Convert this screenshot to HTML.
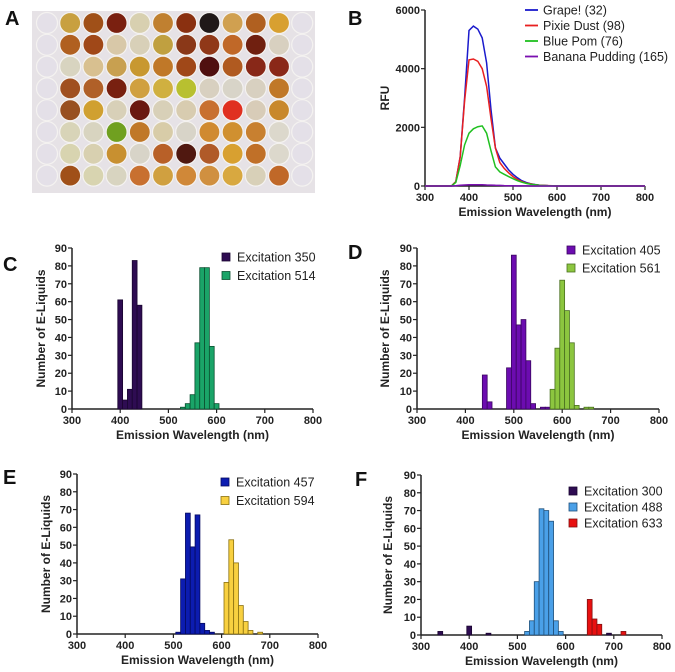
<!DOCTYPE html>
<html><head><meta charset="utf-8">
<style>
html,body{margin:0;padding:0;background:#fff;}
svg{display:block;font-family:"Liberation Sans",Arial,sans-serif;}
.tk{font-size:11px;font-weight:bold;fill:#222;}
.ttl{font-size:12px;font-weight:bold;fill:#222;}
.lg{font-size:12.5px;fill:#222;}
.pl{font-size:20px;font-weight:bold;fill:#111;}
</style></head>
<body>
<svg id="fig" width="675" height="672" viewBox="0 0 675 672" xmlns="http://www.w3.org/2000/svg">
<g id="plate"></g>
<g id="panels"></g>
</svg>
<script>
// ---------- Panel B data ----------
const bWave = [300,360,370,380,390,400,410,420,430,440,450,460,470,480,490,500,510,520,530,540,550,560,580,600,650,700,800];
const bGrape = [0,0,150,1000,3000,5300,5450,5350,5050,4200,2600,1300,950,750,550,400,280,180,120,80,50,30,15,5,0,0,0];
const bPixie = [0,0,150,1000,2900,4300,4330,4250,4000,3400,2300,1300,800,600,450,320,220,150,100,70,45,25,12,5,0,0,0];
const bBlue  = [0,0,120,700,1400,1800,1950,2020,2050,1800,1200,650,480,400,320,250,180,130,90,60,40,20,10,4,0,0,0];
const bBanana= [0,0,10,25,35,40,45,45,40,35,30,25,20,15,10,8,5,3,2,1,0,0,0,0,0,0,0];
const bNames = ["Grape! (32)","Pixie Dust (98)","Blue Pom (76)","Banana Pudding (165)"];
const bTicksY = [0,2000,4000,6000];
const xTicks = [300,400,500,600,700,800];
const hTicksY = [0,10,20,30,40,50,60,70,80,90];

// ---------- Histogram data (bin centers, nm; counts) ----------
const c350Bins=[400,410,420,430,440], c350Vals=[61,5,11,83,58];
const c514Bins=[530,540,550,560,570,580,590,600], c514Vals=[1,3,8,37,79,79,35,3];
const d405Bins=[440,450,490,500,510,520,530,540,560,570], d405Vals=[19,4,23,86,47,50,27,3,1,1];
const d561Bins=[580,590,600,610,620,630,650,660], d561Vals=[11,34,72,55,37,2,1,1];
const e457Bins=[510,520,530,540,550,560,570,580], e457Vals=[1,31,68,49,67,6,2,1];
const e594Bins=[610,620,630,640,650,660,680], e594Vals=[29,53,40,16,7,2,1];
const f300Bins=[340,400,440,690], f300Vals=[2,5,1,1];
const f488Bins=[520,530,540,550,560,570,580,590], f488Vals=[2,8,30,71,70,64,8,2];
const f633Bins=[650,660,670,720], f633Vals=[20,9,6,2];

const NS="http://www.w3.org/2000/svg";
const root=document.getElementById('panels');
function mk(tag,attrs,parent,txt){const e=document.createElementNS(NS,tag);for(const k in attrs)e.setAttribute(k,attrs[k]);if(txt!==undefined)e.textContent=txt;(parent||root).appendChild(e);return e;}

// ---------- Plate ----------
const plate=document.getElementById('plate');
const plateColors=[
["#e4e0e8","#c8a040","#a05018","#7a2010","#d8d0b0","#c08030","#8a3010","#201818","#d0a050","#b06020","#d8a030","#e4e0e8"],
["#e4e0e8","#b06020","#a04818","#d8c8a8","#d8d0b8","#c0a040","#8a3818","#903818","#c06828","#702010","#d8d0c0","#e4e0e8"],
["#e4e0e8","#d8d4c0","#d8c090","#c8a050","#c89830","#c07828","#a04818","#501010","#b05a20","#882818","#8a2818","#e4e0e8"],
["#e4e0e8","#a05020","#b06028","#782010","#d0a040","#d0b040","#b8c030","#d8d0c0","#d8d4c8","#d8d0c0","#c07828","#e4e0e8"],
["#e4e0e8","#985020","#d0a030","#d8d0b8","#6a1810","#d8d0b8","#d8ccb0","#c87030","#e03020","#d8ccb8","#c8882c","#e4e0e8"],
["#e4e0e8","#d8d4b8","#d8d4c0","#70a020","#c07828","#d8cca8","#d8d4c8","#d08a30","#d09030","#c88030","#dcd8cc","#e4e0e8"],
["#e4e0e8","#d8d4b0","#d8d0b0","#c89030","#d8d4c8","#b86028","#501810","#b05a28","#d8a030","#c07028","#dcd8cc","#e4e0e8"],
["#e4e0e8","#a05018","#d8d4b0","#d8d4c0","#c87030","#d0a040","#d08838","#d09040","#d8a840","#d8d0b8","#c06828","#e4e0e8"]];
mk('rect',{x:32,y:11,width:283,height:182,fill:"#e6e2e6"},plate);
for(let r=0;r<8;r++)for(let c=0;c<12;c++){
  const w=mk('circle',{cx:47+c*23.2,cy:23+r*21.8,r:10.5,fill:plateColors[r][c],stroke:"#f4f2f0","stroke-width":1.2},plate);
  
  
}

// ---------- Axis helper ----------
function axes(o){
  const g=mk('g',{});
  
  
  const sx=v=>o.x0+(v-300)/500*(o.x1-o.x0);
  const sy=v=>o.y0-(v)/o.ymax*(o.y0-o.yt);
  mk('line',{x1:o.x0,y1:o.y0,x2:o.x1,y2:o.y0,stroke:"#222","stroke-width":1.5},g);
  mk('line',{x1:o.x0,y1:o.y0,x2:o.x0,y2:o.yt,stroke:"#222","stroke-width":1.5},g);
  o.yt_.forEach(t=>{const y=sy(t);mk('line',{x1:o.x0-4,y1:y,x2:o.x0,y2:y,stroke:"#222","stroke-width":1.2},g);
    const tl=mk('text',{x:o.x0-5,y:y+4,'text-anchor':'end',class:'tk'},g,t);});
  xTicks.forEach(t=>{const x=sx(t);mk('line',{x1:x,y1:o.y0,x2:x,y2:o.y0+4,stroke:"#222","stroke-width":1.2},g);
    const tl=mk('text',{x:x,y:o.y0+15,'text-anchor':'middle',class:'tk'},g,t);});
  const xt=mk('text',{x:(o.x0+o.x1)/2,y:o.y0+30,'text-anchor':'middle',class:'ttl'},g,"Emission Wavelength (nm)");
  
  const yc=(o.y0+o.yt)/2;
  const yt=mk('text',{x:o.ytx,y:yc,'text-anchor':'middle',class:'ttl',transform:`rotate(-90 ${o.ytx} ${yc})`},g,o.ytitle);
  
  const pl=mk('text',{x:o.lx,y:o.ly,class:'pl'},g,o.letter);
  
  return {g,sx,sy};
}

// ---------- Panel A label ----------
{const t=mk('text',{x:5,y:25,class:'pl'},root,"A");}

// ---------- Panel B ----------
{
 const A=axes({name:'panel-b-line-chart',x0:425,x1:645,y0:186,yt:10,ymax:6000,yt_:bTicksY,ytitle:"RFU",ytx:389,letter:"B",lx:348,ly:25});
 const series=[bGrape,bPixie,bBlue,bBanana];
 const cols=["#1a1acc","#e82020","#20c020","#7a10b0"];
 series.forEach((s,i)=>{
   const d=bWave.map((w,j)=>(j?'L':'M')+A.sx(w).toFixed(1)+','+A.sy(s[j]).toFixed(1)).join('');
   const p=mk('path',{d:d,fill:'none',stroke:cols[i],'stroke-width':1.5},A.g);
   
   
   const ly=10+i*15.5;
   const ll=mk('line',{x1:525,y1:ly,x2:538,y2:ly,stroke:cols[i],'stroke-width':1.8},A.g);
   
   const lt=mk('text',{x:543,y:ly+4.5,class:'lg'},A.g,bNames[i]);
   
 });
}

// ---------- Histogram panels ----------
function hist(o,sets){
  const A=axes(Object.assign({yt_:hTicksY,ymax:90,ytitle:"Number of E-Liquids"},o));
  sets.forEach((s,i)=>{
    s.bins.forEach((b,j)=>{
      const x=A.sx(b-5),w=A.sx(b+5)-x,y=A.sy(s.vals[j]);
      const r=mk('rect',{x:x,y:y,width:w,height:A.sy(0)-y,fill:s.color,stroke:s.edge,'stroke-width':0.8},A.g);
      
      
    });
    const ly=o.lgy+i*o.lgdy;
    const sq=mk('rect',{x:o.lgx,y:ly-4,width:8,height:8,fill:s.color,stroke:s.edge,'stroke-width':0.8},A.g);
    
    const lt=mk('text',{x:o.lgx+15,y:ly+4.5,class:'lg'},A.g,s.label);
    
  });
}
hist({name:'panel-c-histogram',x0:72,x1:313,y0:409,yt:248,ytx:45,letter:"C",lx:3,ly:271,lgx:222,lgy:257,lgdy:18.5},
 [{bins:c350Bins,vals:c350Vals,color:"#2e0c52",edge:"#1a0530",label:"Excitation 350"},
  {bins:c514Bins,vals:c514Vals,color:"#1aa468",edge:"#0a5030",label:"Excitation 514"}]);
hist({name:'panel-d-histogram',x0:417,x1:659,y0:409,yt:248,ytx:389,letter:"D",lx:348,ly:259,lgx:567,lgy:250,lgdy:18},
 [{bins:d405Bins,vals:d405Vals,color:"#6c0cb0",edge:"#3a0560",label:"Excitation 405"},
  {bins:d561Bins,vals:d561Vals,color:"#8cc63f",edge:"#4a7020",label:"Excitation 561"}]);
hist({name:'panel-e-histogram',x0:77,x1:318,y0:634,yt:474,ytx:50,letter:"E",lx:3,ly:484,lgx:221,lgy:482,lgdy:18.5},
 [{bins:e457Bins,vals:e457Vals,color:"#0c1cb0",edge:"#050a60",label:"Excitation 457"},
  {bins:e594Bins,vals:e594Vals,color:"#f8d040",edge:"#8a7010",label:"Excitation 594"}]);
hist({name:'panel-f-histogram',x0:421,x1:662,y0:635,yt:475,ytx:392,letter:"F",lx:355,ly:486,lgx:569,lgy:491,lgdy:16},
 [{bins:f300Bins,vals:f300Vals,color:"#2e0c52",edge:"#1a0530",label:"Excitation 300"},
  {bins:f488Bins,vals:f488Vals,color:"#4aa0e8",edge:"#20507a",label:"Excitation 488"},
  {bins:f633Bins,vals:f633Vals,color:"#e81010",edge:"#801010",label:"Excitation 633"}]);
</script>
</body></html>
